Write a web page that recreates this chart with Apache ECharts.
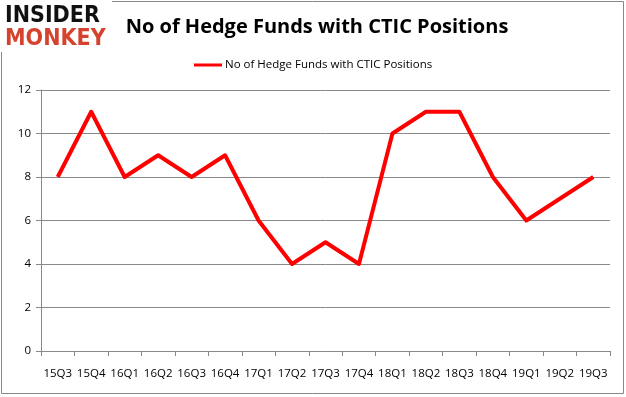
<!DOCTYPE html>
<html><head><meta charset="utf-8">
<script src="https://cdn.jsdelivr.net/npm/echarts@6/dist/echarts.min.js"></script>
<style>html,body{margin:0;padding:0;background:#fff}#c{width:626px;height:397px}</style>
</head><body><div id="c"></div>
<script>
const categories = ['15Q3','15Q4','16Q1','16Q2','16Q3','16Q4','17Q1','17Q2','17Q3','17Q4','18Q1','18Q2','18Q3','18Q4','19Q1','19Q2','19Q3'];
const values = [8, 11, 8, 9, 8, 9, 6, 4, 5, 4, 10, 11, 11, 8, 6, 7, 8];
const seriesName = 'No of Hedge Funds with CTIC Positions';
const titleText = 'No of Hedge Funds with CTIC Positions';

const chart = echarts.init(document.getElementById('c'), null, {renderer: 'canvas'});
const font = '"Open Sans", "Liberation Sans", sans-serif';
chart.setOption({
  animation: false,
  backgroundColor: '#fff',
  title: {
    text: titleText, left: 312, top: 12, textAlign: 'center',
    textStyle: {fontFamily: font, fontSize: 20, fontWeight: 'bold', color: '#000'}
  },
  legend: {
    data: [seriesName], top: 54, left: 189,
    itemWidth: 28, itemHeight: 3, itemGap: 4,
    icon: 'rect',
    textStyle: {fontFamily: font, fontSize: 11.5, color: '#000', padding: [0,0,0,-2]}
  },
  grid: {left: 41, right: 16, top: 90, bottom: 46},
  xAxis: {
    type: 'category', data: categories, boundaryGap: true,
    axisLine: {lineStyle: {color: '#888', width: 1}},
    axisTick: {show: true, alignWithLabel: false, length: 5, lineStyle: {color: '#888'}},
    axisLabel: {fontFamily: font, fontSize: 11.5, color: '#000', margin: 17, interval: 0}
  },
  yAxis: {
    type: 'value', min: 0, max: 12, interval: 2,
    axisLine: {show: true, lineStyle: {color: '#888'}},
    axisTick: {show: true, length: 5, lineStyle: {color: '#888'}},
    splitLine: {lineStyle: {color: '#888', width: 1}},
    axisLabel: {fontFamily: font, fontSize: 11.5, color: '#000', margin: 10}
  },
  series: [{
    name: seriesName, type: 'line', data: values,
    symbol: 'none', lineStyle: {color: '#ff0000', width: 4, join: 'round'},
    itemStyle: {color: '#ff0000'}
  }],
  graphic: [
    {type: 'rect', shape: {x: 1.5, y: 1.5, width: 622, height: 392}, style: {fill: 'none', stroke: '#888', lineWidth: 1}, z: -1},
    {type: 'rect', shape: {x: 0, y: 0, width: 112, height: 52}, style: {fill: '#fff'}, z: 0},
    {type: 'text', left: 5, top: 5, style: {text: 'INSIDER', fontFamily: '"DejaVu Sans Condensed", "DejaVu Sans"', fontWeight: 900, fontSize: 23, fill: '#111'}, z: 1},
    {type: 'text', left: 5, top: 28, style: {text: 'MONKEY', fontFamily: '"DejaVu Sans Condensed", "DejaVu Sans"', fontWeight: 900, fontSize: 23, fill: '#d5432e'}, z: 1}
  ]
});
</script></body></html>
